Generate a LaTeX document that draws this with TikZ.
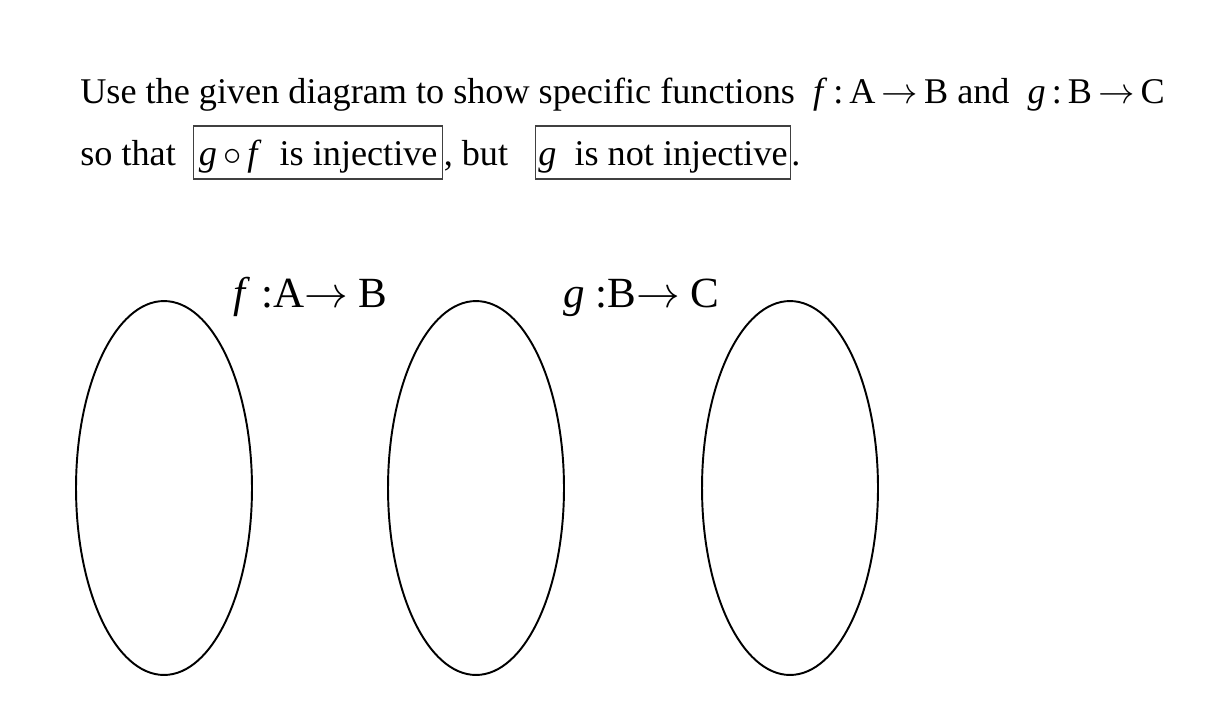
\documentclass[tikz,border=0pt]{standalone}
\usepackage{fontspec}
\setmainfont{Liberation Serif}
\usetikzlibrary{shapes.geometric}

\tikzset{
  txt/.style={anchor=base west, inner sep=0pt, font=\fontsize{20.6}{24}\selectfont},
  lab/.style={txt, font=\fontsize{24.5}{28}\selectfont},
  framed/.style={txt, draw=black!75, line width=0.8pt, inner xsep=3pt,
    text height=0.78cm, text depth=0.28cm},
  set/.style={draw, ellipse, line width=1.1pt, minimum width=3.52cm,
    minimum height=7.48cm, inner sep=0pt}
}

\begin{document}
\begin{tikzpicture}[x=0.02cm, y=-0.02cm]
\useasboundingbox (0,0) rectangle (1230,724);
% question text
\node[txt] (line1) at (80,103) {Use the given diagram to show specific functions \ \textit{f}\,:\,A$\,\rightarrow\,$B and \ \textit{g}\,:\,B$\,\rightarrow\,$C};
\node[txt] (sothat) at (80,165) {so that};
\node[framed] (gof) at (193,165) {\textit{g}\,$\circ$\,\textit{f} \ is injective};
\node[txt] (but) at (gof.base east) {, but};
\node[framed, inner xsep=1.5pt] (gnot) at (535,165) {\textit{g} \ is not injective};
\node[txt] (dot) at (gnot.base east) {.};
% the three sets
\node[set] (setA) at (164,488) {};
\node[set] (setB) at (476,488) {};
\node[set] (setC) at (790,488) {};
\node[lab] (flab) at (233,307) {\textit{f} :A$\rightarrow$ B};
\node[lab] (glab) at (563,307) {\textit{g} :B$\rightarrow$ C};
\end{tikzpicture}
\end{document}
